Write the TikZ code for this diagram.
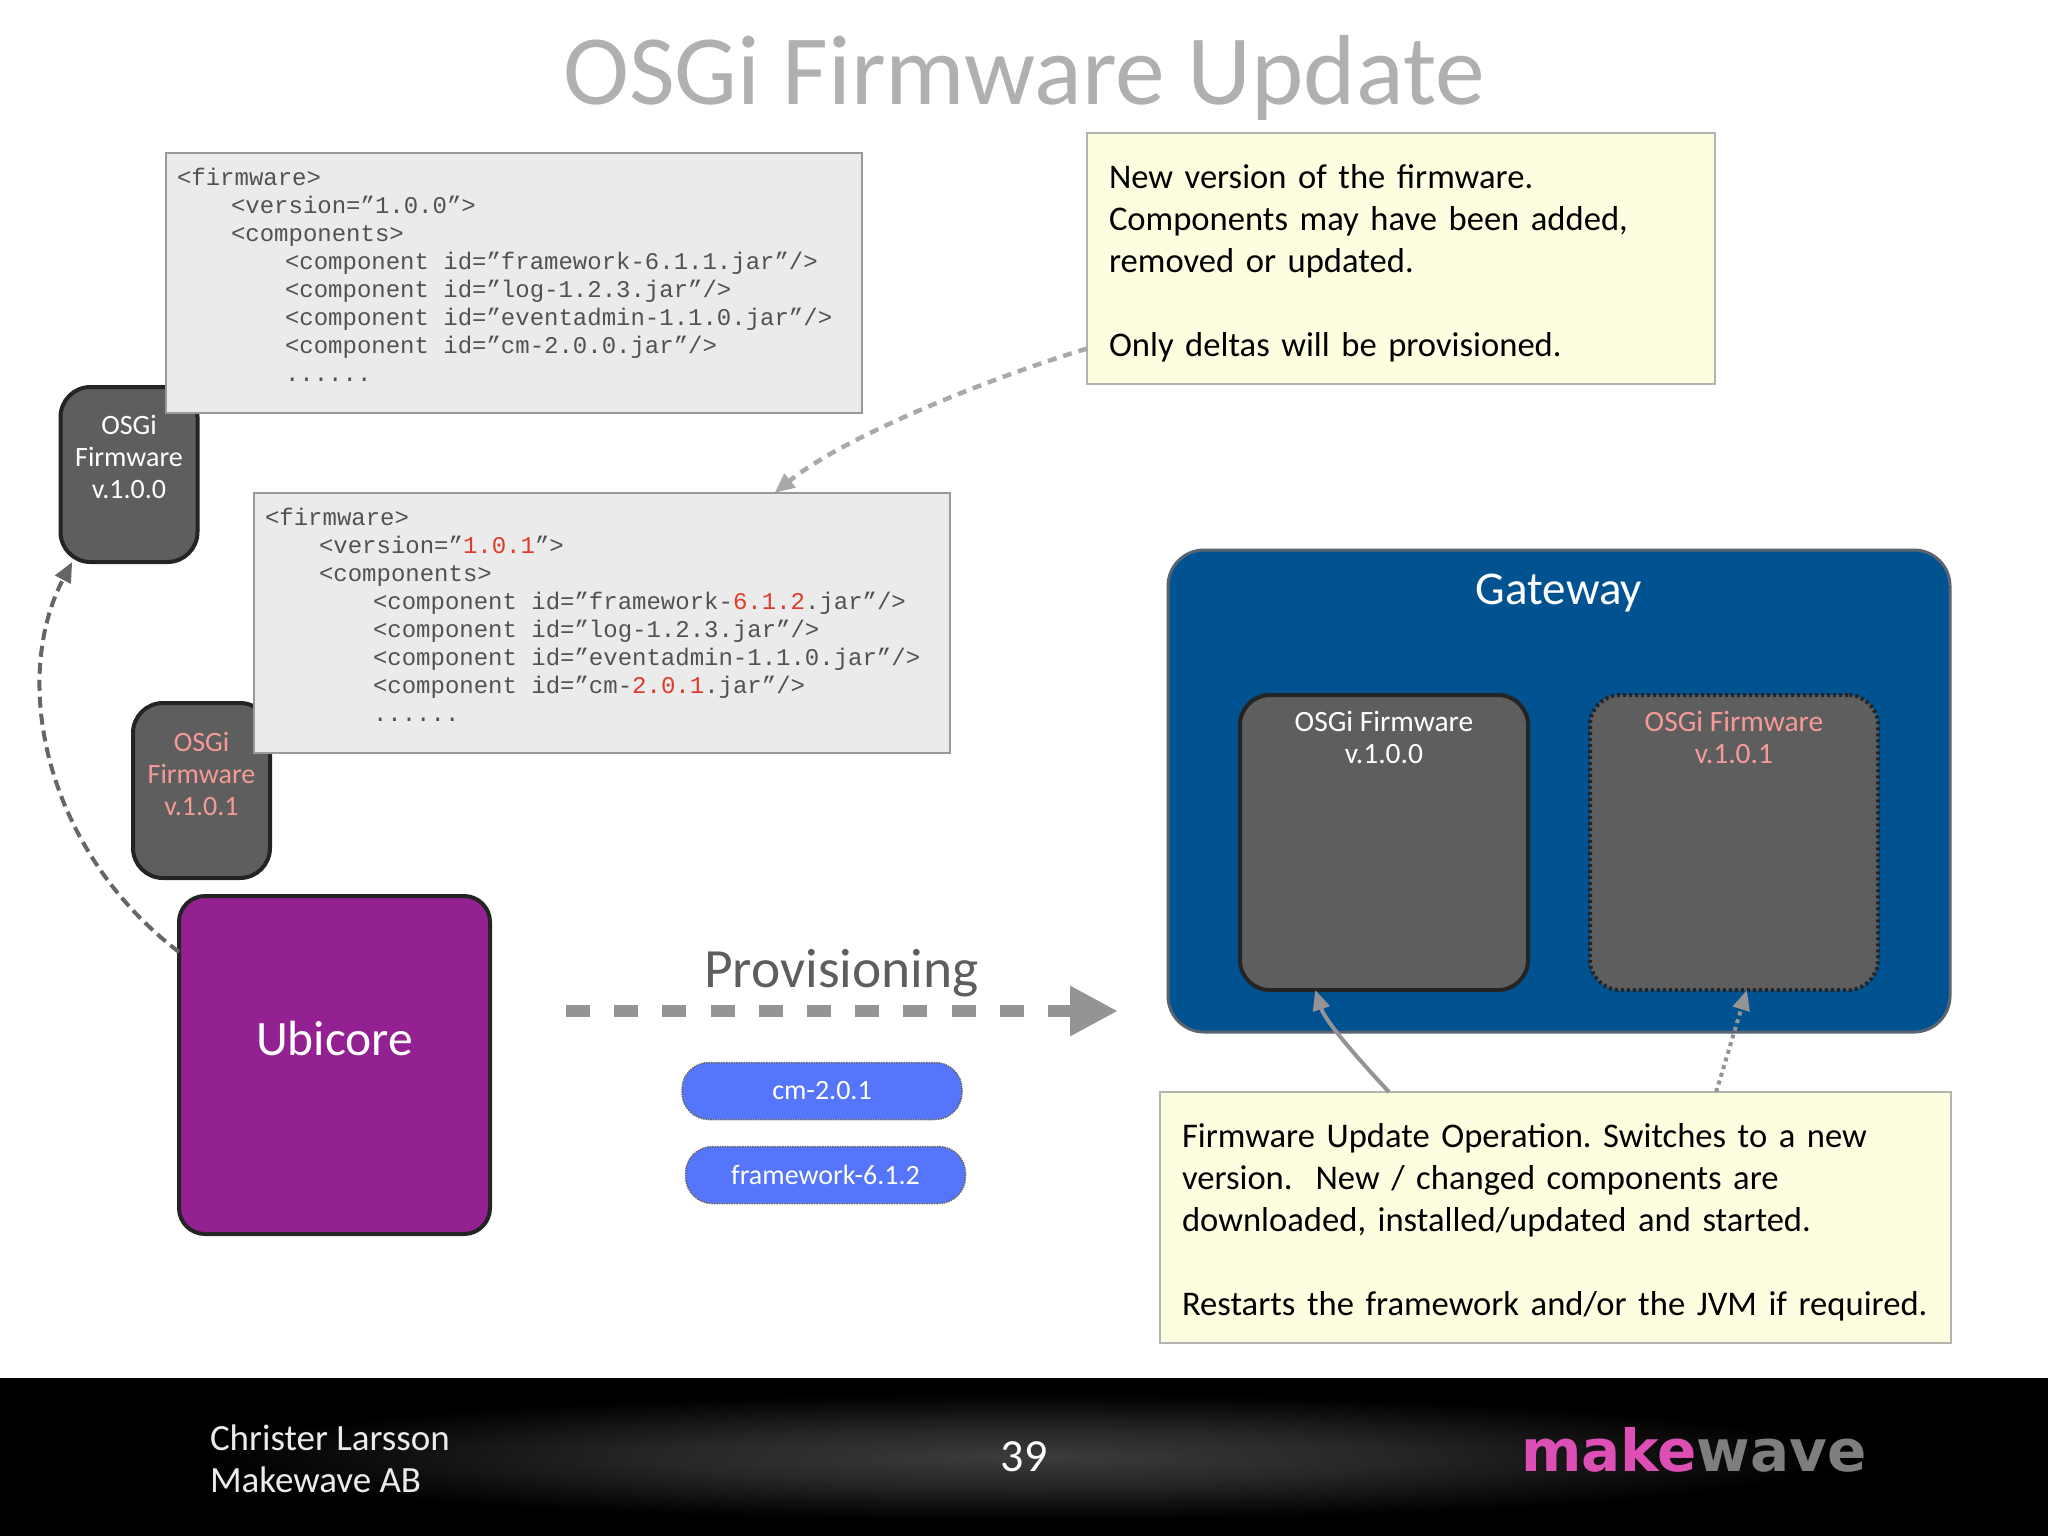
\documentclass[tikz,border=0pt]{standalone}
\usepackage{fontspec}
\setmainfont{Carlito}
\newfontfamily\codefamily{Liberation Mono}
\newfontfamily\logofamily{DejaVu Sans}
\usetikzlibrary{arrows.meta,positioning}
\definecolor{titlegray}{HTML}{B0B0B0}
\definecolor{codefill}{HTML}{EBEBEB}
\definecolor{codeedge}{HTML}{999999}
\definecolor{codered}{HTML}{E03A2A}
\definecolor{firmfill}{HTML}{5E5E5E}
\definecolor{firmedge}{HTML}{242424}
\definecolor{firmpink}{HTML}{F59A96}
\definecolor{ubifill}{HTML}{932191}
\definecolor{gatefill}{HTML}{005291}
\definecolor{gateedge}{HTML}{5A6470}
\definecolor{notefill}{HTML}{FDFDE0}
\definecolor{noteedge}{HTML}{B4B4AE}
\definecolor{pillfill}{HTML}{5575FA}
\definecolor{arrowgray}{HTML}{959395}
\definecolor{logopink}{HTML}{DE4FB6}
\definecolor{logogray}{HTML}{7E7E7E}
\definecolor{glowa}{HTML}{3C3C3C}
\definecolor{glowb}{HTML}{262626}
\definecolor{glowc}{HTML}{111111}
\pgfdeclareradialshading{footerglow}{\pgfpointorigin}{color(0bp)=(glowa); color(9bp)=(glowb); color(15bp)=(glowc); color(20bp)=(black); color(50bp)=(black)}
\newcommand{\fsize}[2]{\fontsize{#1}{#2}\selectfont}
\newcommand{\indone}{\hspace*{54pt}}
\newcommand{\indtwo}{\hspace*{108pt}}
\newcommand{\cgap}{\hspace*{14.4pt}}
\newcommand{\red}[1]{\textcolor{codered}{#1}}
\newcommand{\lastdepth}{\rule[-17pt]{0pt}{1pt}}
\newcommand{\firsttop}{\rule{0pt}{33pt}}
\tikzset{
	outer sep=0pt,
	codebox/.style = {rectangle, draw=codeedge, fill=codefill, line width=2.5pt, minimum width=696pt, minimum height=260pt, text width=674pt, inner sep=0pt, align=left, text=black!68, font=\codefamily\fsize{24}{28}},
	firmbox/.style = {rectangle, rounded corners=30pt, draw=firmedge, fill=firmfill, line width=4pt},
	firmsmall/.style = {firmbox, minimum width=137pt, minimum height=175pt},
	firmbig/.style = {firmbox, minimum width=288pt, minimum height=295pt},
	firmtext/.style = {inner sep=0pt, align=center, text=white, font=\fsize{28}{32}},
	pinktext/.style = {firmtext, text=firmpink},
	notebox/.style = {rectangle, draw=noteedge, fill=notefill, line width=2pt, inner sep=0pt, align=left, text=black, font=\frenchspacing\fsize{34.6}{42}},
	pillbox/.style = {rectangle, rounded corners=27pt, draw=firmedge!70, densely dotted, line width=1.5pt, fill=pillfill, minimum width=280pt, minimum height=57pt, inner sep=0pt, text=white, font=\fsize{28}{32}},
	bigtext/.style = {inner sep=0pt, text=white, font=\fsize{47}{50}},
	foottext/.style = {inner sep=0pt, align=left, text=white!92!black, font=\fsize{37}{42}},
	logotext/.style = {inner sep=0pt, font=\logofamily\bfseries\fsize{58}{60}},
	conn/.style = {arrowgray, line width=4pt, -{Triangle[length=20pt,width=17pt]}}
}
\begin{document}
\begin{tikzpicture}[x=1pt,y=-1pt]
	\useasboundingbox (0,0) rectangle (2048,1536);

	% heading and footer
	\node [inner sep=0pt, text=titlegray, font=\fsize{99.5}{100}] (title) at (1024,78) {OSGi Firmware Update};
	\node [rectangle, minimum width=2048pt, minimum height=158pt, inner sep=0pt, shading=footerglow] (footer) at (1024,1457) {};
	\node [foottext, anchor=west] (speaker) at (210,1459) {Christer Larsson\\Makewave AB};
	\node [inner sep=0pt, text=white, font=\fsize{46}{50}] (pagenum) at (1024,1457) {39};
	\node [logotext, anchor=base west, text=logopink] (logomake) at (1521,1471) {make};
	\node [logotext, anchor=base west, text=logogray] (logowave) at (logomake.base east) {wave};

	% firmware boxes behind the listings
	\node [firmsmall] (firmold) at (129,474.5) {};
	\node [firmtext, below=28pt of firmold.north] (firmoldtext) {OSGi\\Firmware\\v.1.0.0};
	\node [firmsmall] (firmnew) at (201.5,790.5) {};
	\node [pinktext, below=29pt of firmnew.north] (firmnewtext) {OSGi\\Firmware\\v.1.0.1};

	% listings
	\node [codebox] (codeold) at (514,283) {<firmware>\\
		\indone <version=”1.0.0”>\\
		\indone <components>\\
		\indtwo <component\cgap id=”framework-6.1.1.jar”/>\\
		\indtwo <component\cgap id=”log-1.2.3.jar”/>\\
		\indtwo <component\cgap id=”eventadmin-1.1.0.jar”/>\\
		\indtwo <component\cgap id=”cm-2.0.0.jar”/>\\
		\indtwo ......\lastdepth};
	\node [codebox] (codenew) at (602,623) {<firmware>\\
		\indone <version=”\red{1.0.1}”>\\
		\indone <components>\\
		\indtwo <component\cgap id=”framework-\red{6.1.2}.jar”/>\\
		\indtwo <component\cgap id=”log-1.2.3.jar”/>\\
		\indtwo <component\cgap id=”eventadmin-1.1.0.jar”/>\\
		\indtwo <component\cgap id=”cm-\red{2.0.1}.jar”/>\\
		\indtwo ......\lastdepth};

	% ubicore side
	\node [rectangle, rounded corners=26pt, draw=firmedge, fill=ubifill, line width=4pt, minimum width=311pt, minimum height=338pt] (ubicore) at (334.5,1065) {};
	\node [bigtext, font=\fsize{49.5}{50}] (ubicoretext) at (334.5,1038) {Ubicore};
	\node [inner sep=0pt, text=firmfill, font=\fsize{55.4}{60}] (prov) at (841.5,973) {Provisioning};
	\node [pillbox] (pillcm) at (822,1091) {cm-2.0.1};
	\node [pillbox] (pillfw) at (825.5,1175) {framework-6.1.2};
	\coordinate (provstart) at (566,1011);
	\coordinate (provend) at (1118,1011);

	% gateway side
	\node [rectangle, rounded corners=36pt, draw=gateedge, fill=gatefill, line width=3pt, minimum width=782pt, minimum height=482pt] (gateway) at (1559,791) {};
	\node [bigtext] (gatewaytext) at (1559,593) {Gateway};
	\node [firmbig] (gateold) at (1384,842.5) {};
	\node [firmtext, font=\fsize{29.5}{32}, below=16pt of gateold.north] (gateoldtext) {OSGi Firmware\\v.1.0.0};
	\node [firmbig, dash pattern=on 3pt off 3pt] (gatenew) at (1734,842.5) {};
	\node [pinktext, font=\fsize{29.5}{32}, below=16pt of gatenew.north] (gatenewtext) {OSGi Firmware\\v.1.0.1};

	% notes
	\node [notebox, minimum width=628pt, minimum height=251pt, text width=584pt] (noteversion) at (1401,258.5) {\firsttop New version of the firmware.\\Components may have been added,\\removed or updated.\\[42pt]Only deltas will be provisioned.};
	\node [notebox, minimum width=791pt, minimum height=251pt, text width=747pt] (noteupdate) at (1555.5,1217.5) {\firsttop Firmware Update Operation. Switches to a new\\version.\ \ New / changed components are\\downloaded, installed/updated and started.\\[42pt]Restarts the framework and/or the JVM if required.};

	% connectors
	\draw [conn, color=arrowgray!80, line width=4.5pt, dash pattern=on 9pt off 7pt] (noteversion.196) .. controls (990,378) and (845,436) .. (codenew.37.6);
	\draw [conn, color=black!60, dash pattern=on 11pt off 6pt] (ubicore.144) .. controls (45,850) and (10,680) .. (firmold.237);
	\draw [conn] (noteupdate.143) .. controls (1350,1050) and (1325,1020) .. (gateold.245);
	\draw [conn, dash pattern=on 4pt off 4pt] (noteupdate.38) -- (gatenew.275);
	\draw [arrowgray, line width=12pt, dash pattern=on 24pt off 24.2pt, -{Triangle[length=48pt,width=47pt]}] (provstart) -- (provend);
\end{tikzpicture}
\end{document}
